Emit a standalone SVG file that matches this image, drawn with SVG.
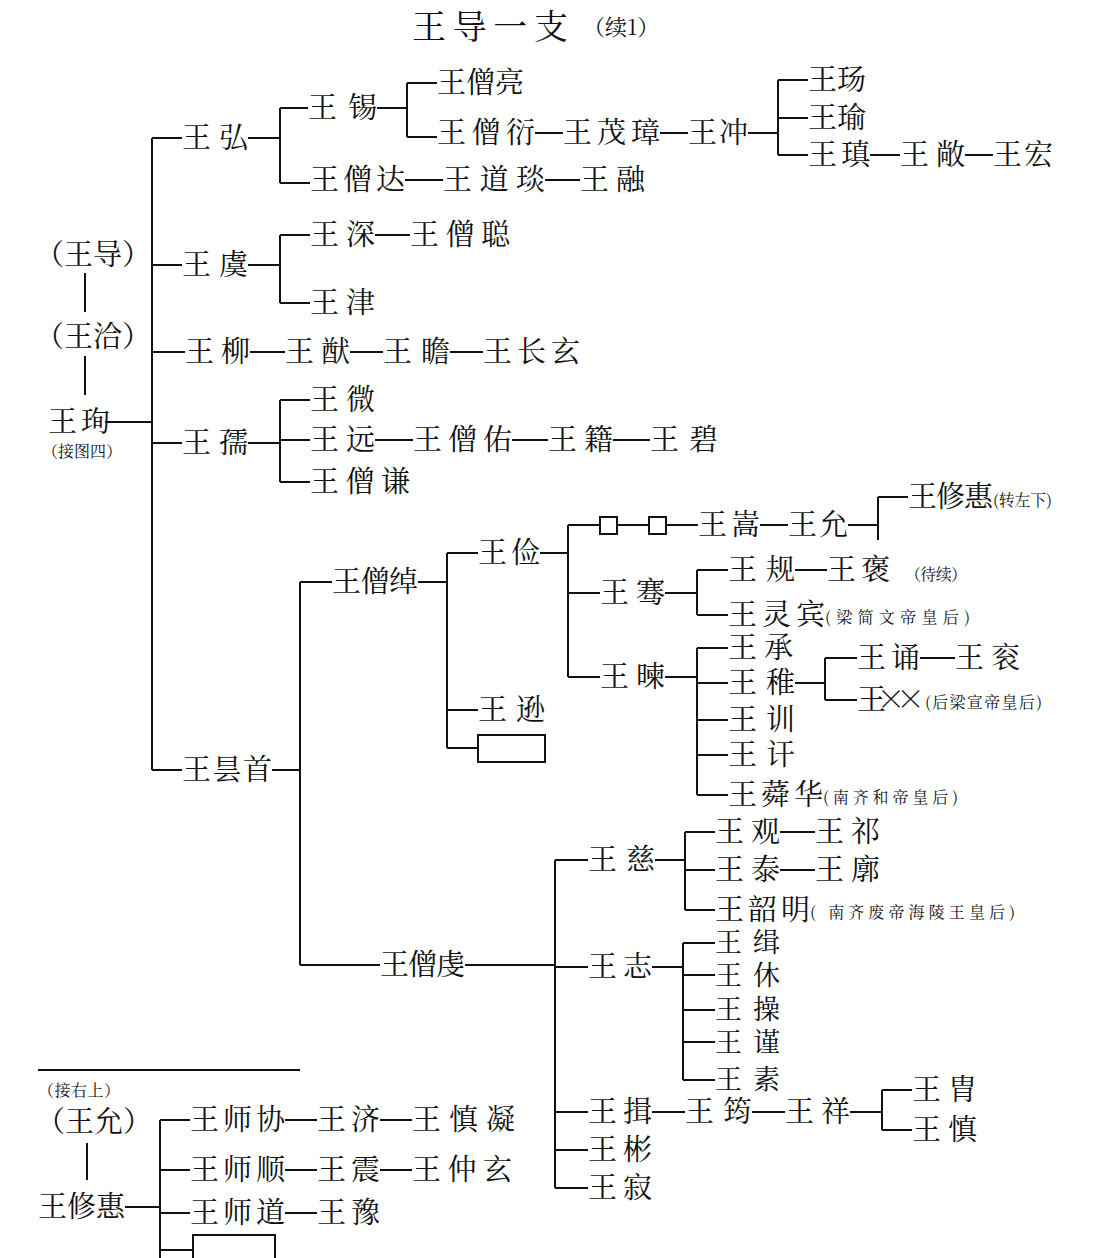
<svg xmlns="http://www.w3.org/2000/svg" width="1106" height="1258" viewBox="0 0 1106 1258">
<style>
text{font-family:"Noto Serif CJK SC","Noto Sans CJK SC",serif;fill:#111}
.n{font-size:29px}
.m{font-size:27px}
.s{font-size:16px}
.t{font-size:34px}
#c path,#c line,#c rect{stroke:#111;stroke-width:2;fill:none}
</style>
<rect width="1106" height="1258" fill="#fff"/>
<text class="t" x="412" y="39" textLength="156">王导一支</text>
<text x="583" y="35" style="font-size:22px">（续1）</text>
<g id="c">
<path d="M85 273V312M85 356V395M105 422H152M152 138V770M152 138H182M152 265H182M152 352H185M152 443H182M152 770H182"/>
<path d="M248 138H280M280 108V183M280 108H308M280 183H310M377 108H407M407 83V137M407 83H437M407 137H437M535 133H563M660 133H688M748 133H778M778 80V155M778 80H808M778 118H808M778 155H808M870 155H900M965 155H993"/>
<path d="M405 180H443M545 180H580"/>
<path d="M248 265H280M280 235V303M280 235H310M280 303H310M375 235H410"/>
<path d="M250 352H285M350 352H383M450 352H483"/>
<path d="M248 443H280M280 400V482M280 400H310M280 440H310M280 482H310M375 440H413M512 440H548M613 440H650"/>
<path d="M272 770H300M300 582V965M300 582H332M418 582H447M447 553V748M447 553H478M447 710H478M447 748H478"/>
<rect x="478" y="735" width="67" height="27"/>
<path d="M540 553H568M568 525V677M568 525H600M617 525H649M666 525H698M760 525H788M848 525H878M878 497V540M878 497H908"/>
<rect x="600" y="517" width="17" height="17"/><rect x="649" y="517" width="17" height="17"/>
<path d="M568 593H600M665 593H697M697 570V615M697 570H728M697 615H728M795 570H827"/>
<path d="M568 677H600M665 677H697M697 648V795M697 648H728M697 683H728M697 720H728M697 755H728M697 795H728M795 683H825M825 658V700M825 658H857M825 700H857M920 658H955"/>
<path d="M300 965H380M465 965H555M555 860V1188M555 860H588M555 967H588M555 1112H588M555 1150H588M555 1188H588"/>
<path d="M655 860H685M685 832V910M685 832H715M685 870H715M685 910H715M780 832H815M780 870H815"/>
<path d="M652 967H683M683 943V1080M683 943H715M683 975H715M683 1010H715M683 1042H715M683 1080H715"/>
<path d="M652 1112H685M752 1112H785M850 1112H882M882 1090V1130M882 1090H912M882 1130H912"/>
<path d="M38 1070H300M87 1143V1180M125 1207H160M160 1120V1258M160 1120H190M160 1170H190M160 1213H190M160 1250H193M285 1120H317M380 1120H412M285 1170H317M380 1170H412M285 1213H317"/>
<path d="M193 1258V1235H275V1258"/>
</g>
<g id="n1"><text class="n" x="35" y="265">（王导）</text></g>
<g id="n2"><text class="n" x="35" y="347">（王洽）</text></g>
<g id="n3"><text class="n" x="48" y="432" textLength="62">王珣</text><text class="s" x="42" y="457" textLength="80">（接图四）</text></g>
<g id="n4"><text class="n" x="182" y="148" textLength="66">王弘</text></g>
<g id="n5"><text class="n" x="308" y="118" textLength="69">王锡</text></g>
<g id="n6"><text class="n" x="437" y="93">王僧亮</text></g>
<g id="n7"><text class="n" x="437" y="143" textLength="98">王僧衍</text><text class="n" x="563" y="143" textLength="97">王茂璋</text><text class="n" x="688" y="143" textLength="60">王冲</text></g>
<g id="n8"><text class="n" x="808" y="90">王玚</text><text class="n" x="808" y="128">王瑜</text><text class="n" x="808" y="165" textLength="62">王瑱</text><text class="n" x="900" y="165" textLength="65">王敞</text><text class="n" x="993" y="165" textLength="60">王宏</text></g>
<g id="n9"><text class="n" x="310" y="190" textLength="95">王僧达</text><text class="n" x="443" y="190" textLength="102">王道琰</text><text class="n" x="580" y="190" textLength="65">王融</text></g>
<g id="n10"><text class="n" x="182" y="275" textLength="66">王虞</text><text class="n" x="310" y="245" textLength="65">王深</text><text class="n" x="410" y="245" textLength="100">王僧聪</text><text class="n" x="310" y="313" textLength="65">王津</text></g>
<g id="n11"><text class="n" x="185" y="362" textLength="65">王柳</text><text class="n" x="285" y="362" textLength="65">王猷</text><text class="n" x="383" y="362" textLength="67">王瞻</text><text class="n" x="483" y="362" textLength="97">王长玄</text></g>
<g id="n12"><text class="n" x="182" y="453" textLength="66">王孺</text><text class="n" x="310" y="410" textLength="65">王微</text><text class="n" x="310" y="450" textLength="65">王远</text><text class="n" x="413" y="450" textLength="99">王僧佑</text><text class="n" x="548" y="450" textLength="65">王籍</text><text class="n" x="650" y="450" textLength="68">王碧</text><text class="n" x="310" y="492" textLength="100">王僧谦</text></g>
<g id="n13"><text class="n" x="182" y="780" textLength="90">王昙首</text><text class="n" x="332" y="592" textLength="86">王僧绰</text><text class="n" x="478" y="563" textLength="62">王俭</text><text class="n" x="478" y="720" textLength="67">王逊</text></g>
<g id="n14"><text class="n" x="698" y="535" textLength="62">王嵩</text><text class="n" x="788" y="535" textLength="60">王允</text><text class="n" x="908" y="507" textLength="85">王修惠</text><text class="s" x="993" y="506" textLength="59">(转左下)</text></g>
<g id="n15"><text class="n" x="600" y="603" textLength="65">王骞</text><text class="n" x="728" y="580" textLength="67">王规</text><text class="n" x="827" y="580" textLength="63">王褒</text><text class="s" x="905" y="580" textLength="62">（待续）</text><text class="n" x="728" y="625" textLength="97">王灵宾</text><text class="s" x="825" y="623" textLength="145">(梁简文帝皇后)</text></g>
<g id="n16"><text class="n" x="600" y="687" textLength="65">王暕</text><text class="n" x="728" y="658" textLength="65">王承</text><text class="n" x="728" y="693" textLength="67">王稚</text><text class="n" x="728" y="730" textLength="67">王训</text><text class="n" x="728" y="765" textLength="67">王讦</text><text class="n" x="728" y="805" textLength="95">王蕣华</text><text class="s" x="823" y="803" textLength="135">(南齐和帝皇后)</text><text class="n" x="857" y="668" textLength="63">王诵</text><text class="n" x="955" y="668" textLength="65">王衮</text><text class="n" x="857" y="710" textLength="68">王××</text><text class="s" x="925" y="708" textLength="117">(后梁宣帝皇后)</text></g>
<g id="n17"><text class="n" x="380" y="975" textLength="85">王僧虔</text><text class="n" x="588" y="870" textLength="67">王慈</text><text class="n" x="715" y="842" textLength="65">王观</text><text class="n" x="815" y="842" textLength="65">王祁</text><text class="n" x="715" y="880" textLength="65">王泰</text><text class="n" x="815" y="880" textLength="65">王廓</text><text class="n" x="715" y="920" textLength="95">王韶明</text><text class="s" x="810" y="918" textLength="205">( 南齐废帝海陵王皇后)</text></g>
<g id="n18"><text class="n" x="588" y="977" textLength="64">王志</text><text class="m" x="715" y="952" textLength="65">王缉</text><text class="m" x="715" y="985" textLength="65">王休</text><text class="m" x="715" y="1019" textLength="65">王操</text><text class="m" x="715" y="1052" textLength="65">王谨</text><text class="m" x="715" y="1089" textLength="65">王素</text></g>
<g id="n19"><text class="n" x="588" y="1122" textLength="64">王揖</text><text class="n" x="685" y="1122" textLength="67">王筠</text><text class="n" x="785" y="1122" textLength="65">王祥</text><text class="n" x="912" y="1100" textLength="65">王胄</text><text class="n" x="912" y="1140" textLength="65">王慎</text><text class="n" x="588" y="1160" textLength="64">王彬</text><text class="n" x="588" y="1198" textLength="64">王寂</text></g>
<g id="n20"><text class="s" x="38" y="1096" textLength="82">（接右上）</text><text class="n" x="36" y="1132">（王允）</text><text class="n" x="38" y="1217" textLength="87">王修惠</text><text class="n" x="190" y="1130" textLength="95">王师协</text><text class="n" x="317" y="1130" textLength="63">王济</text><text class="n" x="412" y="1130" textLength="103">王慎凝</text><text class="n" x="190" y="1180" textLength="95">王师顺</text><text class="n" x="317" y="1180" textLength="63">王震</text><text class="n" x="412" y="1180" textLength="100">王仲玄</text><text class="n" x="190" y="1223" textLength="95">王师道</text><text class="n" x="317" y="1223" textLength="63">王豫</text></g>
</svg>
